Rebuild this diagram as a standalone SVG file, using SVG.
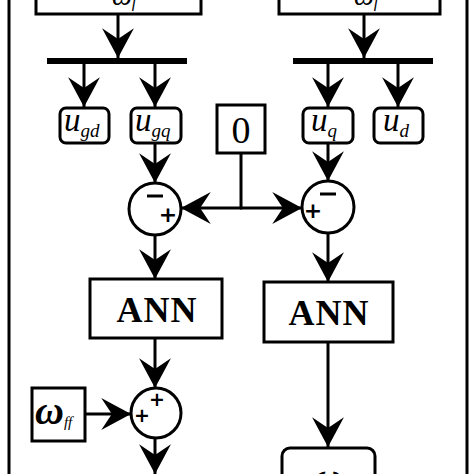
<svg xmlns="http://www.w3.org/2000/svg" width="474" height="474" viewBox="0 0 474 474">
<style>
.ln{stroke:#000;stroke-width:3;fill:none}
.bx{stroke:#000;stroke-width:3;fill:#fff}
.bus{stroke:#000;stroke-width:6;fill:none}
.t{font-family:"Liberation Serif",serif;fill:#000}
.it{font-family:"Liberation Serif",serif;font-style:italic;fill:#000}
.sg{font-family:"DejaVu Sans",sans-serif;font-weight:bold;fill:#000}
</style>
<defs>
<marker id="ah" markerUnits="userSpaceOnUse" markerWidth="32" markerHeight="34" viewBox="-29 -16 30 32" refX="0" refY="0" orient="auto">
<path d="M0,0 L-28,-15 L-18,0 L-28,15 Z" fill="#000"/>
</marker>
</defs>
<rect width="474" height="474" fill="#fff"/>
<g id="frame">
<line class="ln" x1="9" y1="0" x2="9" y2="474"/>
<line class="ln" x1="467" y1="0" x2="467" y2="474"/>
</g>
<g id="top-left">
<rect class="bx" x="36" y="-12" width="165" height="26"/>
<text class="it" x="112" y="5" font-size="28">ω<tspan font-size="17" dy="2">f</tspan></text>
</g>
<g id="top-right">
<rect class="bx" x="279" y="-12" width="161" height="26"/>
<text class="it" x="354" y="5" font-size="28">ω<tspan font-size="17" dy="2">f</tspan></text>
</g>
<g id="bus-left"><line class="bus" x1="47" y1="61" x2="187" y2="61"/></g>
<g id="bus-right"><line class="bus" x1="293" y1="61" x2="433" y2="61"/></g>
<g id="ugd">
<rect class="bx" x="60" y="108" width="49" height="35" rx="6"/>
<text class="it" x="64" y="131" font-size="33">u<tspan font-size="19" dy="6">gd</tspan></text>
</g>
<g id="ugq">
<rect class="bx" x="131" y="108" width="50" height="35" rx="6"/>
<text class="it" x="135" y="131" font-size="33">u<tspan font-size="19" dy="6">gq</tspan></text>
</g>
<g id="uq">
<rect class="bx" x="303" y="108" width="50" height="35" rx="6"/>
<text class="it" x="311" y="131" font-size="33">u<tspan font-size="19" dy="6">q</tspan></text>
</g>
<g id="ud">
<rect class="bx" x="374" y="108" width="49" height="35" rx="6"/>
<text class="it" x="383" y="131" font-size="33">u<tspan font-size="19" dy="6">d</tspan></text>
</g>
<g id="zero">
<rect class="bx" x="217" y="105" width="48" height="48"/>
<text class="t" x="241" y="143" font-size="38" text-anchor="middle">0</text>
</g>
<g id="sum-left">
<circle class="bx" cx="155" cy="209" r="26"/>
<line class="ln" x1="147" y1="196" x2="163" y2="196" stroke-width="3.5"/>
<text class="sg" x="168" y="222" font-size="22" text-anchor="middle">+</text>
</g>
<g id="sum-right">
<circle class="bx" cx="328" cy="207" r="26"/>
<line class="ln" x1="320" y1="194" x2="336" y2="194" stroke-width="3.5"/>
<text class="sg" x="313" y="218" font-size="22" text-anchor="middle">+</text>
</g>
<g id="ann-left">
<rect class="bx" x="90" y="279" width="132" height="59"/>
<text class="t" x="157" y="322" font-size="36" font-weight="bold" text-anchor="middle" letter-spacing="1">ANN</text>
</g>
<g id="ann-right">
<rect class="bx" x="264" y="282" width="129" height="60"/>
<text class="t" x="329" y="325" font-size="36" font-weight="bold" text-anchor="middle" letter-spacing="1">ANN</text>
</g>
<g id="wff">
<rect class="bx" x="32" y="388" width="53" height="53"/>
<text class="it" x="35" y="424" font-size="40" font-weight="bold">ω<tspan font-size="15" font-weight="normal" dy="3">ff</tspan></text>
</g>
<g id="sum-bottom">
<circle class="bx" cx="156" cy="413" r="25"/>
<text class="sg" x="157" y="406" font-size="19" text-anchor="middle">+</text>
<text class="sg" x="142" y="422" font-size="19" text-anchor="middle">+</text>
</g>
<g id="omega-out">
<rect class="bx" x="282" y="448" width="93" height="40" rx="8"/>
<text class="it" x="328" y="492" font-size="42" font-weight="bold" text-anchor="middle">ω</text>
</g>
<g id="connectors">
<line class="ln" x1="118" y1="14" x2="118" y2="58" marker-end="url(#ah)"/>
<line class="ln" x1="364" y1="14" x2="364" y2="58" marker-end="url(#ah)"/>
<line class="ln" x1="84" y1="64" x2="84" y2="107" marker-end="url(#ah)"/>
<line class="ln" x1="155" y1="64" x2="155" y2="107" marker-end="url(#ah)"/>
<line class="ln" x1="328" y1="64" x2="328" y2="107" marker-end="url(#ah)"/>
<line class="ln" x1="398" y1="64" x2="398" y2="107" marker-end="url(#ah)"/>
<line class="ln" x1="155" y1="143" x2="155" y2="183" marker-end="url(#ah)"/>
<line class="ln" x1="328" y1="143" x2="328" y2="181" marker-end="url(#ah)"/>
<line class="ln" x1="241" y1="153" x2="241" y2="208"/>
<line class="ln" x1="242" y1="208" x2="181" y2="208" marker-end="url(#ah)"/>
<line class="ln" x1="240" y1="208" x2="302" y2="208" marker-end="url(#ah)"/>
<line class="ln" x1="155" y1="235" x2="155" y2="279" marker-end="url(#ah)"/>
<line class="ln" x1="328" y1="233" x2="328" y2="282" marker-end="url(#ah)"/>
<line class="ln" x1="155" y1="338" x2="155" y2="388" marker-end="url(#ah)"/>
<line class="ln" x1="85" y1="414" x2="131" y2="414" marker-end="url(#ah)"/>
<line class="ln" x1="155" y1="438" x2="155" y2="474" marker-end="url(#ah)"/>
<line class="ln" x1="328" y1="342" x2="328" y2="447" marker-end="url(#ah)"/>
</g>
</svg>
